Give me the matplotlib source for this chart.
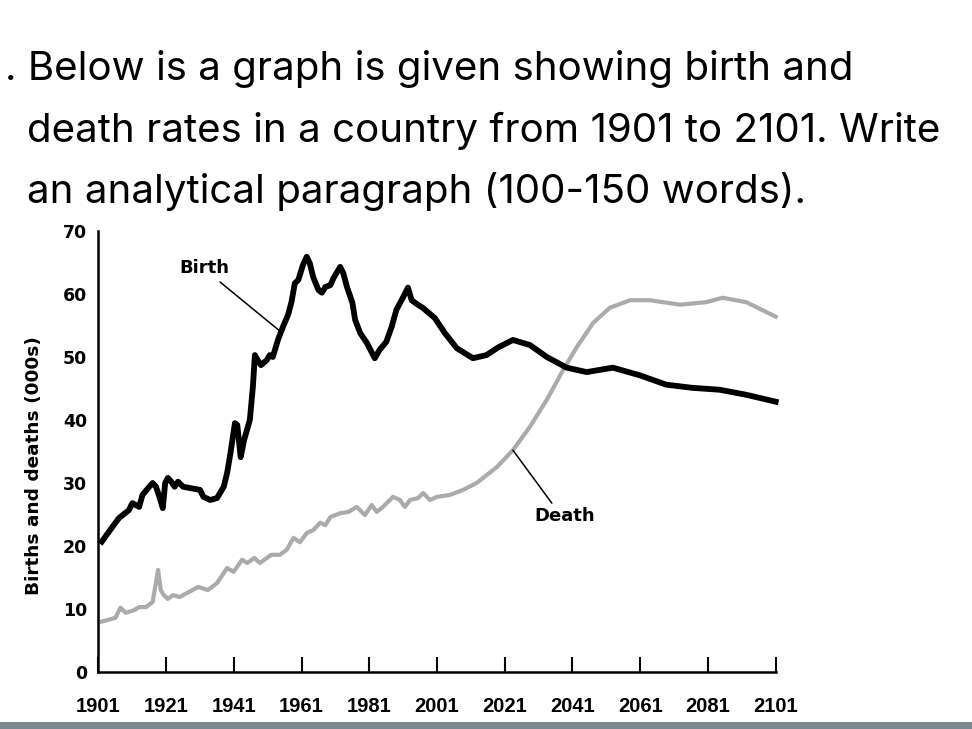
import matplotlib.pyplot as plt
from matplotlib.patches import Rectangle

# valores (miles)
birth_years = [1902, 1904.4, 1907, 1910, 1911, 1913, 1914, 1916, 1917, 1918, 1919, 1920,
               1920.7, 1921.5, 1922.5, 1923.5, 1924.5, 1926, 1928, 1931, 1932, 1934, 1936,
               1938, 1939, 1940, 1941.3, 1942, 1943, 1944, 1945.7, 1946.6, 1947.2, 1948,
               1949, 1950.7, 1951.6, 1952.5, 1954, 1955.5, 1957, 1958, 1959, 1960, 1961.4,
               1962.5, 1963.4, 1964.4, 1966, 1967, 1968, 1969.5, 1970.4, 1971.5, 1972.4,
               1973.3, 1974.4, 1976, 1976.8, 1978.3, 1980.3, 1982.6, 1984, 1986, 1987.6,
               1989, 1991, 1992.4, 1993.5, 1995.3, 1996.8, 1998.3, 2000.3, 2003.3, 2006.8,
               2011.6, 2015.6, 2019, 2023.4, 2028.4, 2033.4, 2039.3, 2045.2, 2052.9,
               2060.8, 2068.7, 2076.4, 2084.4, 2092.3, 2101]
birth = [20.7, 22.5, 24.4, 25.7, 26.8, 26.2, 28.1, 29.4, 30.0, 29.4, 27.8, 26.0,
         30.0, 30.8, 30.2, 29.4, 30.2, 29.4, 29.2, 28.9, 27.8, 27.3, 27.6,
         29.4, 31.6, 34.8, 39.5, 39.2, 34.1, 36.8, 40.0, 45.2, 50.3, 49.5,
         48.7, 49.5, 50.3, 50.0, 52.7, 54.8, 56.7, 58.7, 61.7, 62.2, 64.6,
         65.9, 64.9, 62.7, 60.6, 60.2, 61.1, 61.4, 62.5, 63.5, 64.3,
         63.3, 61.1, 58.6, 55.9, 53.8, 52.2, 49.8, 51.1, 52.4, 54.8,
         57.5, 59.5, 61.0, 59.0, 58.3, 57.8, 57.1, 56.2, 53.8, 51.4,
         49.8, 50.3, 51.5, 52.7, 51.9, 50.0, 48.3, 47.6, 48.3,
         47.1, 45.6, 45.1, 44.8, 44.0, 42.9]

death_years = [1902, 1904, 1906, 1907.5, 1909, 1911.5, 1913, 1915, 1917, 1918.6, 1919.4,
               1920.3, 1921.5, 1923, 1925, 1927, 1928.8, 1930.5, 1933.3, 1936, 1939,
               1940.9, 1943.4, 1945, 1947, 1948.7, 1952, 1954.6, 1956.6, 1958.6, 1960.5,
               1962.6, 1964.4, 1966.5, 1968, 1969.5, 1972.4, 1974.8, 1977.3, 1979.7,
               1981.7, 1983.2, 1985, 1988, 1990, 1991.5, 1993, 1995.4, 1996.9, 1998.9,
               2001, 2004.8, 2008.7, 2012.7, 2018.6, 2023.4, 2028.4, 2033.4, 2038.2,
               2042.3, 2047.1, 2052, 2058, 2063.9, 2072.7, 2080.6, 2085.3, 2092.3, 2101]
death = [8.0, 8.3, 8.6, 10.2, 9.4, 9.8, 10.3, 10.3, 11.1, 16.2, 13.0,
         12.2, 11.6, 12.2, 11.9, 12.5, 13.0, 13.5, 13.0, 14.1, 16.5,
         15.9, 17.8, 17.3, 18.1, 17.3, 18.6, 18.6, 19.4, 21.3, 20.6,
         22.1, 22.5, 23.7, 23.3, 24.6, 25.2, 25.4, 26.2, 24.9,
         26.5, 25.4, 26.2, 27.8, 27.3, 26.2, 27.3, 27.6, 28.4, 27.3,
         27.8, 28.1, 28.9, 30.0, 32.5, 35.2, 38.9, 43.2, 47.9,
         51.6, 55.4, 57.8, 59.0, 59.0, 58.3, 58.7, 59.4, 58.7, 56.4]

x_ticks = list(range(1901, 2102, 20))
y_ticks = list(range(0, 71, 10))

titulo = [". Below is a graph is given showing birth and",
          "death rates in a country from 1901 to 2101. Write",
          "an analytical paragraph (100-150 words)."]

fig = plt.figure(figsize=(9.72, 7.29), dpi=100)
ax = fig.add_axes([0.1013, 0.0782, 0.6967, 0.605])

ax.plot(death_years, death, color='#ababab', lw=3.0, solid_joinstyle='round', clip_on=False)
ax.plot(birth_years, birth, color='black', lw=4.2, solid_joinstyle='round', clip_on=False)

ax.set_xlim(1901, 2101)
ax.set_ylim(0, 70)
ax.spines['top'].set_visible(False)
ax.spines['right'].set_visible(False)
ax.spines['left'].set_linewidth(1.8)
ax.spines['bottom'].set_linewidth(1.8)

ax.set_xticks(x_ticks)
ax.set_xticklabels([str(t) for t in x_ticks], fontfamily='Liberation Sans',
                   fontweight='bold', fontsize=14.5)
ax.tick_params(axis='x', direction='in', length=11, width=1.5, pad=18)
ax.set_yticks(y_ticks)
ax.set_yticklabels([str(t) for t in y_ticks], fontfamily='DejaVu Sans',
                   fontweight='bold', fontsize=12.5)
ax.tick_params(axis='y', length=0, pad=8)
ax.set_ylabel('Births and deaths (000s)', fontfamily='DejaVu Sans',
              fontweight='bold', fontsize=13.3)
ax.yaxis.set_label_coords(-0.082, 0.467)

# etiquetas con lineas guia
ax.annotate('', xy=(1954.6, 54.1), xytext=(1936.9, 61.9),
            arrowprops=dict(arrowstyle='-', lw=1.1, color='black', shrinkA=0, shrinkB=0))
ax.text(1932.4, 64.1, 'Birth', ha='center', va='center', fontfamily='DejaVu Sans',
        fontweight='bold', fontsize=13)
ax.annotate('', xy=(2023.4, 35.2), xytext=(2034.9, 26.8),
            arrowprops=dict(arrowstyle='-', lw=1.1, color='black', shrinkA=0, shrinkB=0))
ax.text(2038.7, 24.8, 'Death', ha='center', va='center', fontfamily='DejaVu Sans',
        fontweight='bold', fontsize=13)

# texto del enunciado
fig.text(0.005, 0.8903, titulo[0], fontfamily='Inter', fontsize=29, va='baseline')
fig.text(0.028, 0.8052, titulo[1], fontfamily='Inter', fontsize=29, va='baseline')
fig.text(0.028, 0.7215, titulo[2], fontfamily='Inter', fontsize=29, va='baseline')

fig.patches.append(Rectangle((0, 0), 1, 7 / 729, transform=fig.transFigure,
                             facecolor='#7b8791', edgecolor='none'))

fig.savefig('out.png', dpi=100)
